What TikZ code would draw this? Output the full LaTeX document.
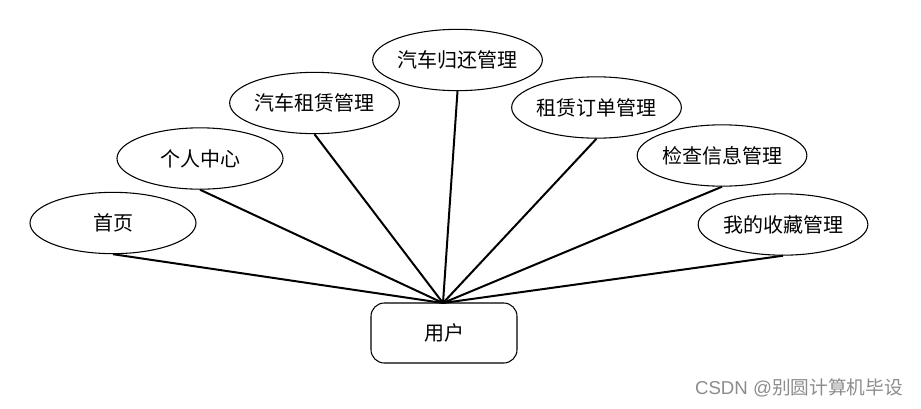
\documentclass[tikz,border=0pt]{standalone}
\usepackage{fontspec}
\setmainfont{Noto Sans CJK SC}
\newfontfamily\latinwm{Liberation Sans}
\usetikzlibrary{shapes.geometric}
\begin{document}
\begin{tikzpicture}[x=0.75pt,y=-0.75pt,
  ell/.style={ellipse,draw=black,line width=0.8pt,fill=white,minimum width=124.5pt,minimum height=46pt,inner sep=0pt,font=\fontsize{15pt}{17pt}\selectfont},
  userbox/.style={rectangle,rounded corners=10pt,draw=black,line width=0.8pt,fill=white,minimum width=109.5pt,minimum height=45pt,font=\fontsize{15pt}{17pt}\selectfont},
  link/.style={line width=1.5pt,black}]
\useasboundingbox (0,0) rectangle (921,408);
\node[ell] (home) at (113,223) {首页};
\node[ell] (center) at (200,158.5) {个人中心};
\node[ell] (rent) at (314.5,103) {汽车租赁管理};
\node[ell] (ret) at (457.5,60) {汽车归还管理};
\node[ell] (order) at (596.5,107.5) {租赁订单管理};
\node[ell] (check) at (722,155.5) {检查信息管理};
\node[ell] (fav) at (783,224.5) {我的收藏管理};
\node[userbox] (user) at (444,333) {用户};
\coordinate (hub) at (443,303);
\draw[link] (home.south) -- (hub);
\draw[link] (center.south) -- (hub);
\draw[link] (rent.south) -- (hub);
\draw[link] (ret.south) -- (hub);
\draw[link] (order.south) -- (hub);
\draw[link] (check.south) -- (hub);
\draw[link] (fav.south) -- (hub);
\node[anchor=east,text=black!45,font=\fontsize{14pt}{16pt}\selectfont,inner sep=0pt] (wm) at (903,388) {{\latinwm CSDN @}别圆计算机毕设};
\end{tikzpicture}
\end{document}
